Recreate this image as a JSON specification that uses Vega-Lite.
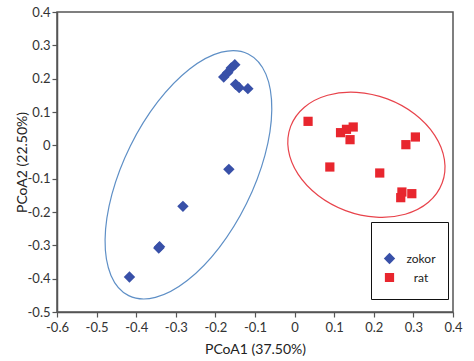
{
  "$schema": "https://vega.github.io/schema/vega-lite/v6.json",
  "width": 396,
  "height": 300,
  "autosize": {"type": "none"},
  "padding": {"left": 57, "top": 12, "right": 21, "bottom": 49},
  "background": "white",
  "config": {
    "view": {"stroke": "#555", "strokeWidth": 1.5},
    "font": "Lato",
    "axis": {
      "grid": false,
      "domainColor": "#555",
      "domainWidth": 1.5,
      "tickColor": "#555",
      "tickWidth": 1.2,
      "tickSize": 5,
      "labelOverlap": false,
      "labelFont": "Lato",
      "labelFontSize": 13,
      "labelColor": "#333",
      "titleFont": "Lato",
      "titleFontSize": 14,
      "titleFontWeight": "normal",
      "titleColor": "#222"
    }
  },
  "datasets": {
    "points": [
      {"PCoA1": -0.179, "PCoA2": 0.205, "group": "zokor"},
      {"PCoA1": -0.169, "PCoA2": 0.218, "group": "zokor"},
      {"PCoA1": -0.160, "PCoA2": 0.232, "group": "zokor"},
      {"PCoA1": -0.151, "PCoA2": 0.242, "group": "zokor"},
      {"PCoA1": -0.149, "PCoA2": 0.183, "group": "zokor"},
      {"PCoA1": -0.140, "PCoA2": 0.173, "group": "zokor"},
      {"PCoA1": -0.118, "PCoA2": 0.170, "group": "zokor"},
      {"PCoA1": -0.166, "PCoA2": -0.072, "group": "zokor"},
      {"PCoA1": -0.282, "PCoA2": -0.183, "group": "zokor"},
      {"PCoA1": -0.343, "PCoA2": -0.308, "group": "zokor"},
      {"PCoA1": -0.341, "PCoA2": -0.304, "group": "zokor"},
      {"PCoA1": -0.417, "PCoA2": -0.395, "group": "zokor"},
      {"PCoA1": 0.034, "PCoA2": 0.072, "group": "rat"},
      {"PCoA1": 0.116, "PCoA2": 0.038, "group": "rat"},
      {"PCoA1": 0.131, "PCoA2": 0.048, "group": "rat"},
      {"PCoA1": 0.148, "PCoA2": 0.055, "group": "rat"},
      {"PCoA1": 0.140, "PCoA2": 0.017, "group": "rat"},
      {"PCoA1": 0.089, "PCoA2": -0.065, "group": "rat"},
      {"PCoA1": 0.215, "PCoA2": -0.083, "group": "rat"},
      {"PCoA1": 0.281, "PCoA2": 0.002, "group": "rat"},
      {"PCoA1": 0.305, "PCoA2": 0.025, "group": "rat"},
      {"PCoA1": 0.271, "PCoA2": -0.140, "group": "rat"},
      {"PCoA1": 0.268, "PCoA2": -0.157, "group": "rat"},
      {"PCoA1": 0.296, "PCoA2": -0.145, "group": "rat"}
    ],
    "ellipses": [
      {"group": "zokor", "ord": 1, "x": -0.1172, "y": 0.2742},
      {"group": "zokor", "ord": 2, "x": -0.0725, "y": 0.2136},
      {"group": "zokor", "ord": 3, "x": -0.0576, "y": 0.1070},
      {"group": "zokor", "ord": 4, "x": -0.0748, "y": -0.0293},
      {"group": "zokor", "ord": 5, "x": -0.1214, "y": -0.1746},
      {"group": "zokor", "ord": 6, "x": -0.1903, "y": -0.3067},
      {"group": "zokor", "ord": 7, "x": -0.2711, "y": -0.4056},
      {"group": "zokor", "ord": 8, "x": -0.3514, "y": -0.4562},
      {"group": "zokor", "ord": 9, "x": -0.4190, "y": -0.4508},
      {"group": "zokor", "ord": 10, "x": -0.4637, "y": -0.3902},
      {"group": "zokor", "ord": 11, "x": -0.4786, "y": -0.2836},
      {"group": "zokor", "ord": 12, "x": -0.4614, "y": -0.1473},
      {"group": "zokor", "ord": 13, "x": -0.4148, "y": -0.0020},
      {"group": "zokor", "ord": 14, "x": -0.3459, "y": 0.1301},
      {"group": "zokor", "ord": 15, "x": -0.2651, "y": 0.2290},
      {"group": "zokor", "ord": 16, "x": -0.1848, "y": 0.2796},
      {"group": "rat", "ord": 1, "x": 0.3726, "y": -0.1132},
      {"group": "rat", "ord": 2, "x": 0.3379, "y": -0.1709},
      {"group": "rat", "ord": 3, "x": 0.2793, "y": -0.2067},
      {"group": "rat", "ord": 4, "x": 0.2059, "y": -0.2155},
      {"group": "rat", "ord": 5, "x": 0.1286, "y": -0.1957},
      {"group": "rat", "ord": 6, "x": 0.0594, "y": -0.1504},
      {"group": "rat", "ord": 7, "x": 0.0087, "y": -0.0865},
      {"group": "rat", "ord": 8, "x": -0.0157, "y": -0.0137},
      {"group": "rat", "ord": 9, "x": -0.0100, "y": 0.0568},
      {"group": "rat", "ord": 10, "x": 0.0247, "y": 0.1145},
      {"group": "rat", "ord": 11, "x": 0.0833, "y": 0.1503},
      {"group": "rat", "ord": 12, "x": 0.1567, "y": 0.1591},
      {"group": "rat", "ord": 13, "x": 0.2340, "y": 0.1393},
      {"group": "rat", "ord": 14, "x": 0.3032, "y": 0.0940},
      {"group": "rat", "ord": 15, "x": 0.3539, "y": 0.0301},
      {"group": "rat", "ord": 16, "x": 0.3783, "y": -0.0427}
    ]
  },
  "layer": [
    {
      "data": {"name": "ellipses"},
      "transform": [{"filter": "datum.group == 'zokor'"}],
      "mark": {"type": "line", "interpolate": "cardinal-closed", "strokeWidth": 1.2, "stroke": "#5e8fc6"},
      "encoding": {
        "x": {"field": "x", "type": "quantitative", "scale": {"domain": [-0.6, 0.4], "nice": false, "zero": false},
          "axis": {"tickCount": 10, "labelOverlap": false, "labelBound": false, "labelFlush": false,
            "labelExpr": "abs(datum.value) < 1e-9 ? '0' : replace(format(datum.value, '.1f'), '\u2212', '-')",
            "title": "PCoA1 (37.50%)", "titlePadding": 8, "labelPadding": 4}},
        "y": {"field": "y", "type": "quantitative", "scale": {"domain": [-0.5, 0.4], "nice": false, "zero": false},
          "axis": {"tickCount": 9, "labelOverlap": false, "labelBound": false, "labelFlush": false,
            "labelExpr": "abs(datum.value) < 1e-9 ? '0' : replace(format(datum.value, '.1f'), '\u2212', '-')",
            "title": "PCoA2 (22.50%)", "titlePadding": -2, "labelPadding": 2}},
        "order": {"field": "ord", "type": "quantitative"}
      }
    },
    {
      "data": {"name": "ellipses"},
      "transform": [{"filter": "datum.group == 'rat'"}],
      "mark": {"type": "line", "interpolate": "cardinal-closed", "strokeWidth": 1.2, "stroke": "#e8434b"},
      "encoding": {
        "x": {"field": "x", "type": "quantitative"},
        "y": {"field": "y", "type": "quantitative"},
        "order": {"field": "ord", "type": "quantitative"}
      }
    },
    {
      "data": {"name": "points"},
      "mark": {"type": "point", "filled": true, "opacity": 1},
      "encoding": {
        "x": {"field": "PCoA1", "type": "quantitative"},
        "y": {"field": "PCoA2", "type": "quantitative"},
        "color": {"field": "group", "type": "nominal",
          "scale": {"domain": ["zokor", "rat"], "range": ["#3850a8", "#e8262e"]},
          "legend": {"title": " ", "titleFontSize": 12, "titlePadding": 3, "orient": "none", "legendX": 314, "legendY": 210,
            "strokeColor": "#111", "fillColor": "white", "padding": 12, "rowPadding": 0, "clipHeight": 19,
            "labelFontSize": 12, "labelFont": "Lato", "labelColor": "#222", "labelOffset": 25, "labelAlign": "center", "symbolOpacity": 1}},
        "shape": {"field": "group", "type": "nominal",
          "scale": {"domain": ["zokor", "rat"], "range": ["diamond", "square"]}},
        "size": {"field": "group", "type": "nominal",
          "scale": {"domain": ["zokor", "rat"], "range": [130, 85]}}
      }
    }
  ]
}
